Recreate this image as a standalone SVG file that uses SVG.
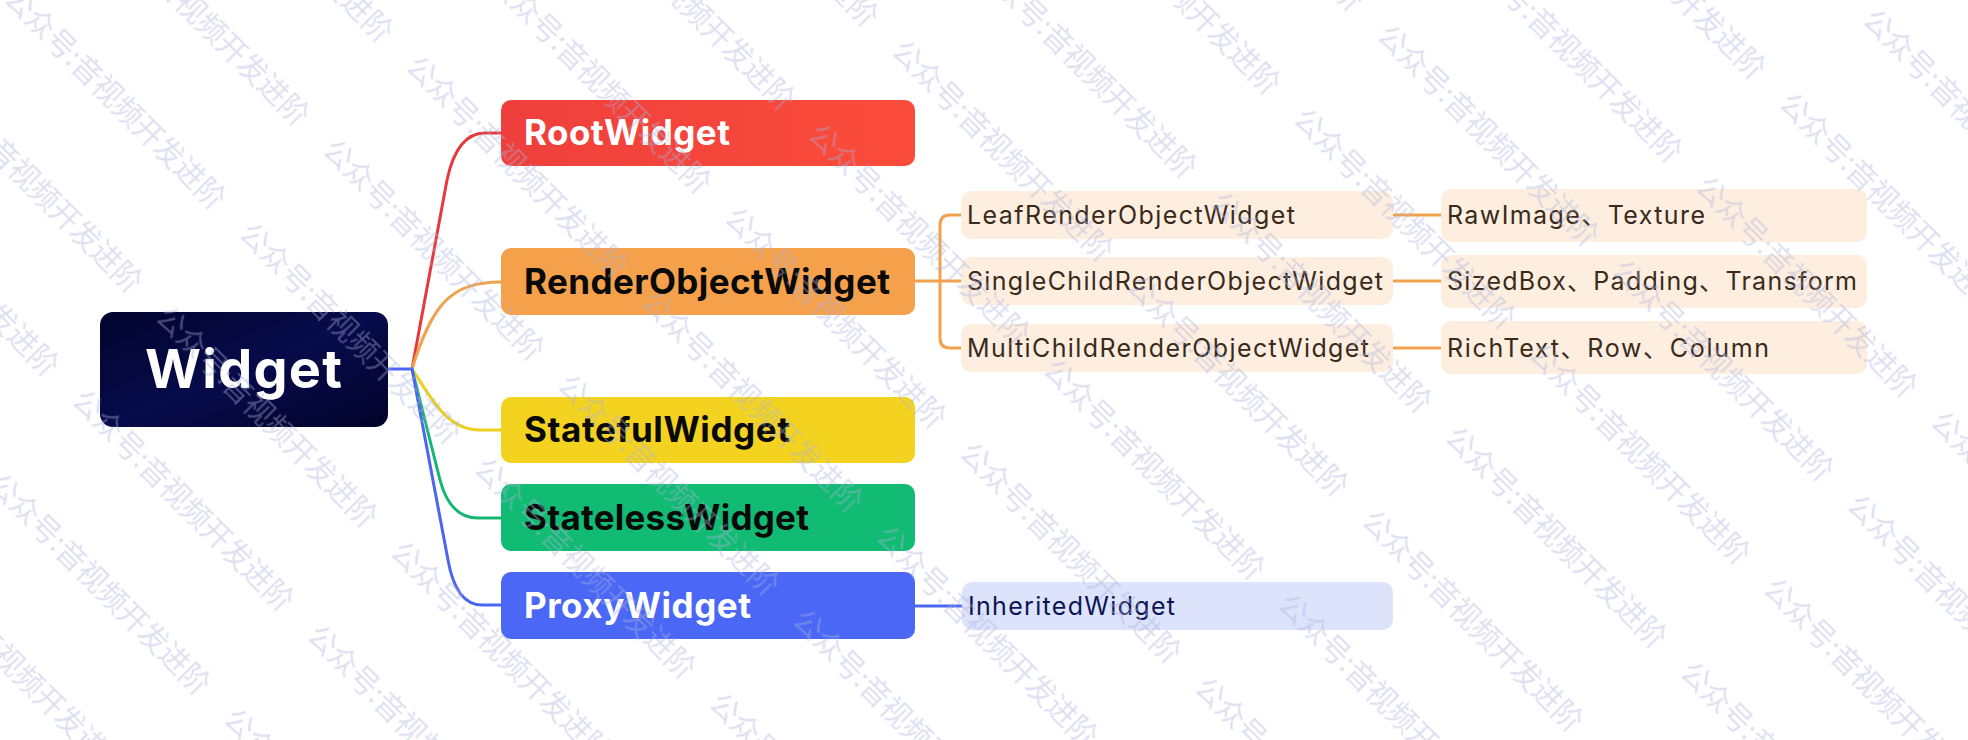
<svg xmlns="http://www.w3.org/2000/svg" width="1968" height="740" viewBox="0 0 1968 740">
<style>
.l1{font-family:Inter,"Noto Sans CJK SC",sans-serif;font-weight:700;font-size:35px}
.l2{font-family:Inter,"Noto Sans CJK SC",sans-serif;font-weight:400;font-size:25px;fill:#3a2a1c}
.wm{font-family:"Noto Sans CJK SC",sans-serif;font-size:29px;fill:#a9b2dd;fill-opacity:0.4}
.br{fill:none;stroke-width:3;stroke-linecap:round;stroke-linejoin:round}
.sub{fill:#fdeee0}
</style>
<defs>
<linearGradient id="gw" x1="0" y1="0" x2="1" y2="1">
<stop offset="0" stop-color="#02042c"/>
<stop offset="0.5" stop-color="#070b4a"/>
<stop offset="1" stop-color="#02032a"/>
</linearGradient>
<linearGradient id="gr" x1="0" y1="0" x2="1" y2="0">
<stop offset="0" stop-color="#ef3f3c"/>
<stop offset="1" stop-color="#fb4c3b"/>
</linearGradient>
<pattern id="wmp" patternUnits="userSpaceOnUse" x="2" y="57" width="332.3" height="118.1" patternTransform="rotate(45)">
<text class="wm" x="0" y="60">公众号:音视频开发进阶</text>
</pattern>
</defs>
<rect width="1968" height="740" fill="#ffffff"/>
<g id="connectors">
<path class="br" stroke="#4a66f0" d="M387,369 L412,369"/>
<path class="br" stroke="#e8383c" d="M412,369 L447,180 Q457,133 485,133 L501,133"/>
<path class="br" stroke="#f0a24e" d="M412,369 C432,305 450,282 501,282"/>
<path class="br" stroke="#ecd020" d="M412,369 C430,395 445,430 480,430 L501,430"/>
<path class="br" stroke="#14b771" d="M412,369 L440,480 Q450,518 478,518 L501,518"/>
<path class="br" stroke="#4a66f0" d="M412,369 L448,560 Q456,605 482,605 L501,605"/>
<path class="br" stroke="#f0a24e" d="M915,281 L961,281 M961,215 L950,215 Q940,215 940,225 L940,338 Q940,348 950,348 L961,348"/>
<path class="br" stroke="#f0a24e" d="M1394,215 L1441,215 M1394,281 L1441,281 M1394,348 L1441,348"/>
<path class="br" stroke="#4a66f0" d="M915,606 L962,606"/>
</g>
<g id="node-widget">
<rect x="100" y="312" width="288" height="115" rx="13" fill="url(#gw)"/>
<text x="145" y="388" textLength="197" lengthAdjust="spacing" style="font-family:Inter,sans-serif;font-weight:700;font-size:54px" fill="#ffffff">Widget</text>
</g>
<g id="node-rootwidget">
<rect x="501" y="100" width="414" height="66" rx="10" fill="url(#gr)"/>
<text class="l1" x="524" y="145" textLength="206" lengthAdjust="spacing" fill="#ffffff">RootWidget</text>
</g>
<g id="node-renderobjectwidget">
<rect x="501" y="248" width="414" height="67" rx="10" fill="#f5a14c"/>
<text class="l1" x="524" y="294" textLength="366" lengthAdjust="spacing" fill="#0a0a0a">RenderObjectWidget</text>
</g>
<g id="node-statefulwidget">
<rect x="501" y="397" width="414" height="66" rx="10" fill="#f3d31f"/>
<text class="l1" x="524" y="442" textLength="266" lengthAdjust="spacing" fill="#0a0a0a">StatefulWidget</text>
</g>
<g id="node-statelesswidget">
<rect x="501" y="484" width="414" height="67" rx="10" fill="#11bb73"/>
<text class="l1" x="524" y="530" textLength="285" lengthAdjust="spacing" fill="#0a0a0a">StatelessWidget</text>
</g>
<g id="node-proxywidget">
<rect x="501" y="572" width="414" height="67" rx="10" fill="#4a68f5"/>
<text class="l1" x="524" y="618" textLength="227" lengthAdjust="spacing" fill="#ffffff">ProxyWidget</text>
</g>
<g id="node-leafrenderobjectwidget">
<rect class="sub" x="961" y="191" width="432" height="48" rx="10"/>
<text class="l2" x="967" y="224" textLength="328" lengthAdjust="spacing">LeafRenderObjectWidget</text>
</g>
<g id="node-singlechildrenderobjectwidget">
<rect class="sub" x="961" y="257" width="432" height="48" rx="10"/>
<text class="l2" x="967" y="290" textLength="416" lengthAdjust="spacing">SingleChildRenderObjectWidget</text>
</g>
<g id="node-multichildrenderobjectwidget">
<rect class="sub" x="961" y="324" width="432" height="48" rx="10"/>
<text class="l2" x="967" y="357" textLength="402" lengthAdjust="spacing">MultiChildRenderObjectWidget</text>
</g>
<g id="node-rawimage-texture">
<rect class="sub" x="1441" y="189" width="426" height="53" rx="10"/>
<text class="l2" x="1447" y="224" textLength="258" lengthAdjust="spacing">RawImage、Texture</text>
</g>
<g id="node-sizedbox-padding-transform">
<rect class="sub" x="1441" y="255" width="426" height="53" rx="10"/>
<text class="l2" x="1447" y="290" textLength="410" lengthAdjust="spacing">SizedBox、Padding、Transform</text>
</g>
<g id="node-richtext-row-column">
<rect class="sub" x="1441" y="321" width="426" height="53" rx="10"/>
<text class="l2" x="1447" y="357" textLength="322" lengthAdjust="spacing">RichText、Row、Column</text>
</g>
<g id="node-inheritedwidget">
<rect x="962" y="582" width="431" height="48" rx="10" fill="#dde3fb"/>
<text class="l2" x="968" y="615" textLength="207" lengthAdjust="spacing" style="fill:#0b1552">InheritedWidget</text>
</g>
<rect id="watermark" width="1968" height="740" fill="url(#wmp)" pointer-events="none"/>
</svg>
